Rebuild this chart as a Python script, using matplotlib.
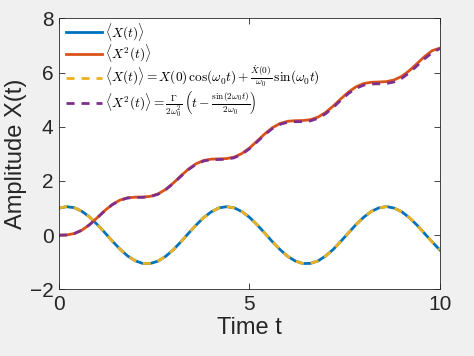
import matplotlib
matplotlib.use("Agg")
import matplotlib.pyplot as plt
import numpy as np

# time samples (step 0.2)
t = np.arange(51) * 0.2

# simulated mean position <X(t)>
x_mean = [1.000, 1.052, 1.016, 0.881, 0.675, 0.401, 0.099, -0.219, -0.510, -0.764,
          -0.941, -1.042, -1.042, -0.957, -0.779, -0.539, -0.243, 0.071, 0.375, 0.653,
          0.865, 1.008, 1.052, 1.011, 0.871, 0.661, 0.385, 0.082, -0.236, -0.525,
          -0.776, -0.949, -1.045, -1.040, -0.950, -0.767, -0.523, -0.225, 0.085, 0.396,
          0.663, 0.879, 1.009, 1.056, 1.001, 0.865, 0.643, 0.372, 0.060, -0.250,
          -0.545]

# simulated second moment <X^2(t)>
x2_mean = [0.000, 0.008, 0.061, 0.186, 0.388, 0.642, 0.906, 1.135, 1.296, 1.380,
           1.404, 1.407, 1.434, 1.523, 1.690, 1.924, 2.190, 2.441, 2.638, 2.758,
           2.807, 2.815, 2.826, 2.882, 3.012, 3.216, 3.471, 3.735, 3.962, 4.120,
           4.202, 4.225, 4.230, 4.262, 4.356, 4.528, 4.764, 5.030, 5.281, 5.476,
           5.594, 5.642, 5.652, 5.666, 5.728, 5.862, 6.072, 6.330, 6.592, 6.810,
           6.900]

# analytic <X(t)> = X(0)cos(w0 t) + Xdot(0)/w0 sin(w0 t)
x_theory = [1.000, 1.054, 1.014, 0.883, 0.673, 0.403, 0.097, -0.217, -0.512, -0.762,
            -0.943, -1.040, -1.044, -0.955, -0.781, -0.537, -0.245, 0.069, 0.377, 0.651,
            0.867, 1.006, 1.054, 1.009, 0.873, 0.659, 0.387, 0.080, -0.234, -0.527,
            -0.774, -0.951, -1.043, -1.042, -0.948, -0.769, -0.521, -0.227, 0.087, 0.394,
            0.665, 0.877, 1.011, 1.054, 1.003, 0.863, 0.645, 0.370, 0.062, -0.252,
            -0.543]

# analytic <X^2(t)> = Gamma/(2 w0^2) (t - sin(2 w0 t)/(2 w0))
x2_theory = [0.000, 0.008, 0.060, 0.184, 0.383, 0.635, 0.898, 1.127, 1.288, 1.372,
             1.395, 1.398, 1.424, 1.512, 1.677, 1.908, 2.172, 2.422, 2.618, 2.738,
             2.786, 2.793, 2.802, 2.857, 2.985, 3.189, 3.443, 3.705, 3.931, 4.087,
             4.167, 4.188, 4.190, 4.219, 4.311, 4.481, 4.715, 4.979, 5.228, 5.419,
             5.535, 5.580, 5.585, 5.596, 5.655, 5.788, 5.995, 6.250, 6.512, 6.734,
             6.886]

labels = [r'$\langle X(t)\rangle$',
          r'$\langle X^2(t)\rangle$',
          r'$\langle X(t)\rangle = X(0)\,\cos(\omega_0 t) + \frac{\dot{X}(0)}{\omega_0}\,\sin(\omega_0 t)$',
          r'$\langle X^2(t)\rangle = \frac{\Gamma}{2\omega_0^2}\,\left(t - \frac{\sin(2\omega_0 t)}{2\omega_0}\right)$']

plt.rcParams['font.family'] = ['Liberation Sans', 'DejaVu Sans']
plt.rcParams['mathtext.fontset'] = 'cm'

fig = plt.figure(figsize=(4.74, 3.56), dpi=100, facecolor='#f0f0f0')
ax = fig.add_axes([0.1245, 0.187, 0.8035, 0.7615])

ax.plot(t, x_mean, color='#0072BD', lw=2, label=labels[0])
ax.plot(t, x2_mean, color='#D95319', lw=2, label=labels[1])
ax.plot(t, x_theory, color='#EDB120', lw=2, dashes=(2.9, 2.5), label=labels[2])
ax.plot(t, x2_theory, color='#7E2F8E', lw=2, dashes=(2.9, 2.5), label=labels[3])

ax.set_xlim(0, 10)
ax.set_ylim(-2, 8)
ax.set_xticks([0, 5, 10])
ax.set_yticks([-2, 0, 2, 4, 6, 8])
ax.tick_params(direction='in', top=True, right=True, labelsize=15,
               colors='#262626', length=4, width=0.6, pad=4)
for s in ax.spines.values():
    s.set_color('#262626')
    s.set_linewidth(0.6)
ax.set_xlabel('Time t', fontsize=17, color='#262626', labelpad=2)
ax.set_ylabel('Amplitude X(t)', fontsize=17, color='#262626', labelpad=2)

ax.legend(loc='upper left', bbox_to_anchor=(0.012, 1.0), fontsize=9.6, frameon=False,
          handlelength=2.7, handletextpad=0.2, borderaxespad=0.1, borderpad=0.1,
          labelspacing=0.0)

fig.savefig('out.png', dpi=100, facecolor=fig.get_facecolor())
